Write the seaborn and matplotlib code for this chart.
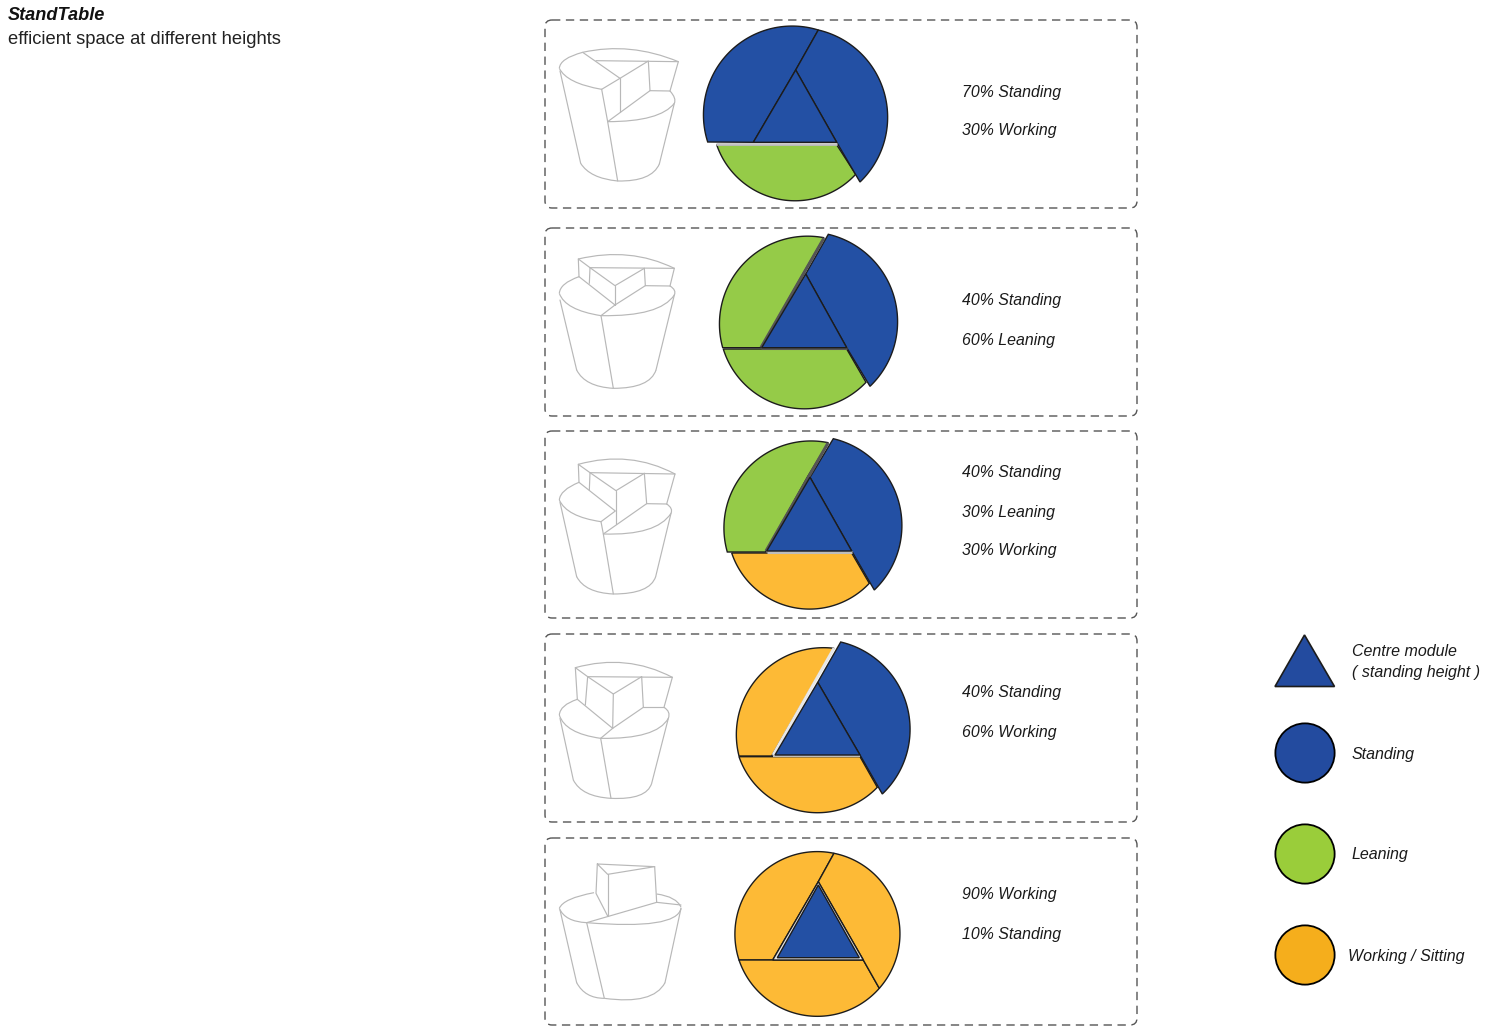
import numpy as np
import pandas as pd
import matplotlib
matplotlib.use('Agg')
import matplotlib.pyplot as plt
from matplotlib.patches import FancyBboxPatch, Polygon, PathPatch
from matplotlib.path import Path
import seaborn as sns

# --- colours ---
BLUE = '#2350A4'
GREEN = '#95CB48'
YELLOW = '#FDBA36'
EDGE = '#1c1c1c'
SKETCH = '#b8b8b8'
DASH = '#555555'

# --- texts ---
TITLE = 'StandTable'
SUBTITLE = 'efficient space at different heights'
PANEL_LABELS = [
    ['70% Standing', '30% Working'],
    ['40% Standing', '60% Leaning'],
    ['40% Standing', '30% Leaning', '30% Working'],
    ['40% Standing', '60% Working'],
    ['90% Working', '10% Standing'],
]
LABEL_Y = [[91, 130], [300, 339], [472, 511, 550], [692, 731], [894, 933]]
BOX_Y = [(20, 208), (228, 416), (431, 618), (634, 822), (838, 1025)]

# legend
LEGEND_NAMES = ['Standing', 'Leaning', 'Working / Sitting']
LEGEND_COLORS = ['#234B9F', '#9ACD3A', '#F5AE1C']
LEGEND_Y = [753, 854, 955]
LEGEND_TEXT_X = [1352, 1352, 1348]

# --- discs: each panel has three sectors (colour, centre, arc start, arc end,
# direction of the arc, inner corners), then the triangle and its stripes ---
PANEL_SECTORS = [
    [(BLUE, (792.3, 114.7), (818.3, 30), (707.7, 142), -1, [(753.3, 142.3), (795.7, 70)]),
     (GREEN, (795, 118), (716.7, 144.8), (855.7, 174.3), -1, [(836.7, 144.8), (750, 144.8)]),
     (BLUE, (798, 117), (818.3, 30), (860, 182), 1, [(836.7, 142.3), (795.7, 70)])],
    [(GREEN, (807, 324.7), (824, 237.7), (722.7, 347.7), -1, [(761, 347.7), (804, 272)]),
     (GREEN, (804.5, 324), (723.3, 349), (866, 382.3), -1, [(846.7, 349), (761.7, 349)]),
     (BLUE, (808, 322), (828.3, 234.3), (870, 386.3), 1, [(846.7, 347.7), (805.7, 274)])],
    [(GREEN, (811, 528), (828.3, 442.7), (727.3, 552), -1, [(765.5, 552), (808, 476)]),
     (YELLOW, (809.5, 527), (731.7, 553), (869.3, 583.3), -1, [(851.7, 553), (766.7, 553)]),
     (BLUE, (812.7, 525.5), (833.3, 438.7), (874.3, 590), 1, [(851.7, 551), (810, 477.3)])],
    [(YELLOW, (823, 735.3), (834, 648.3), (739, 756), -1, [(771.7, 756), (816, 679.3)]),
     (YELLOW, (817.5, 729.7), (739, 756.7), (877.3, 787.3), -1, [(860, 756.7), (771.7, 756.7)]),
     (BLUE, (820.7, 730), (840.7, 642), (882.3, 794), 1, [(860, 755), (817.7, 682.3)])],
    [(YELLOW, (817.8, 933.8), (834, 853.3), (739, 960), -1, [(772.7, 960), (818.3, 881.7)]),
     (YELLOW, (817.8, 933.8), (739, 960), (879.3, 988.3), -1, [(863.3, 960), (772.7, 960)]),
     (YELLOW, (817.8, 933.8), (834, 853.3), (879.3, 988.3), 1, [(863.3, 960), (818.3, 881.7)])],
]
PANEL_STRIPES = [
    [((716, 143.5), (836.7, 143.5), '#c4c4c4', 2.0)],
    [((824, 238), (761, 347.5), '#555555', 2.2), ((761, 348.3), (847, 348.3), '#555555', 2.2)],
    [((828, 443), (766, 551), '#555555', 2.2), ((767, 552), (852, 552), '#bdbdbd', 2.2)],
    [((834, 648), (773, 755), '#e8e8e8', 2.0), ((773, 755.8), (860, 755.8), '#bdbdbd', 1.6)],
    [],
]
PANEL_TRIANGLES = [
    [(795.7, 70), (753.3, 142.3), (836.7, 142.3)],
    [(805.7, 274), (761.7, 347.7), (846.7, 347.7)],
    [(810, 477.3), (766.7, 551), (851.7, 551)],
    [(817.7, 682.3), (775, 755), (860, 755)],
    [(818.3, 885), (777.3, 957.7), (859.3, 957.7)],
]
# white rim around the last triangle
RIM_TRIANGLE = [(818.3, 881.7), (772.7, 960), (863.3, 960)]

# --- pencil sketches, in 1/3 pixel units from the crop origin (540, top) ---
SKETCH_TOPS = [10, 225, 425, 630, 830]
SKETCH_LINES = [
    [[(60, 183), (122, 460)], [(403, 280), (358, 462)], [(185, 238), (203, 335), (233, 513)],
     [(128, 127), (240, 205), (185, 238)], [(168, 152), (415, 155)],
     [(240, 205), (325, 153), (330, 242), (390, 243)], [(240, 205), (240, 305)],
     [(203, 335), (330, 242)], [(415, 155), (390, 243)]],
    [[(60, 225), (110, 435)], [(403, 210), (348, 435)], [(183, 272), (220, 490)],
     [(115, 102), (117, 155)], [(115, 102), (150, 128), (225, 182), (313, 130)],
     [(150, 128), (403, 130)], [(150, 128), (148, 175)], [(117, 155), (225, 240)],
     [(225, 182), (225, 240)], [(313, 130), (316, 182), (390, 183)], [(403, 130), (390, 183)],
     [(183, 272), (225, 240), (316, 182)]],
    [[(60, 232), (110, 455)], [(393, 265), (347, 455)], [(183, 290), (190, 327), (220, 507)],
     [(115, 118), (117, 172)], [(115, 118), (150, 143), (228, 197), (313, 145)],
     [(150, 143), (405, 147)], [(150, 143), (148, 195)], [(117, 172), (226, 258), (183, 290)],
     [(228, 197), (228, 298)], [(190, 327), (320, 236)], [(313, 145), (320, 236), (380, 237)],
     [(405, 147), (380, 237)]],
    [[(60, 265), (100, 450)], [(385, 265), (335, 460)], [(182, 325), (213, 505)],
     [(106, 113), (112, 208)], [(106, 113), (143, 140), (220, 192), (305, 140)],
     [(143, 140), (397, 142)], [(143, 140), (136, 225)], [(112, 208), (218, 295), (182, 325)],
     [(220, 192), (218, 295)], [(218, 295), (310, 232), (305, 140)], [(310, 232), (372, 232)],
     [(397, 142), (372, 232)]],
    [[(60, 240), (110, 458)], [(423, 235), (375, 458)], [(140, 278), (193, 505)],
     [(172, 102), (203, 133), (344, 110), (172, 102)], [(203, 133), (203, 258)],
     [(172, 102), (168, 190), (203, 258)], [(344, 110), (350, 217)],
     [(140, 278), (350, 217), (423, 225)]],
]
# (start, control, end)
SKETCH_CURVES = [
    [[(128, 127), (270, 95), (415, 155)], [(128, 127), (60, 145), (58, 175)],
     [(58, 175), (80, 220), (185, 238)], [(390, 243), (410, 265), (403, 280)],
     [(403, 280), (360, 335), (203, 335)], [(122, 460), (150, 505), (233, 513)],
     [(233, 513), (335, 515), (358, 462)]],
    [[(115, 102), (270, 65), (403, 130)], [(117, 155), (60, 175), (58, 205)],
     [(58, 205), (75, 255), (183, 272)], [(390, 183), (410, 195), (403, 210)],
     [(403, 210), (360, 275), (183, 272)], [(110, 435), (135, 485), (220, 490)],
     [(220, 490), (330, 490), (348, 435)]],
    [[(115, 118), (270, 75), (405, 147)], [(117, 172), (60, 195), (58, 225)],
     [(58, 225), (80, 275), (183, 290)], [(380, 237), (400, 250), (393, 265)],
     [(393, 265), (350, 332), (190, 327)], [(110, 455), (135, 503), (220, 507)],
     [(220, 507), (330, 507), (347, 455)]],
    [[(106, 113), (260, 70), (397, 142)], [(112, 208), (60, 225), (58, 255)],
     [(58, 255), (75, 310), (182, 325)], [(372, 232), (393, 245), (385, 265)],
     [(385, 265), (350, 328), (182, 325)], [(100, 450), (125, 500), (213, 505)],
     [(213, 505), (320, 510), (335, 460)]],
    [[(162, 188), (70, 205), (58, 235)], [(58, 235), (75, 275), (140, 278)],
     [(140, 278), (410, 300), (423, 235)], [(350, 192), (410, 200), (423, 232)],
     [(110, 458), (135, 505), (193, 505)], [(193, 505), (340, 525), (375, 458)]],
]


def sector_points(center, start, end, direction, inner):
    """Arc from start to end around center, closed through the inner corners"""
    cx, cy = center
    a0 = np.arctan2(start[1] - cy, start[0] - cx)
    a1 = np.arctan2(end[1] - cy, end[0] - cx)
    if direction < 0 and a1 > a0:
        a1 -= 2 * np.pi
    if direction > 0 and a1 < a0:
        a1 += 2 * np.pi
    r0 = np.hypot(start[0] - cx, start[1] - cy)
    r1 = np.hypot(end[0] - cx, end[1] - cy)
    t = np.linspace(0, 1, 80)
    ang = a0 + (a1 - a0) * t
    rad = r0 + (r1 - r0) * t
    arc = np.column_stack([cx + rad * np.cos(ang), cy + rad * np.sin(ang)])
    return np.vstack([arc, inner])


sns.set_theme(style='white')
plt.rcParams['font.family'] = ['Liberation Sans', 'DejaVu Sans']

fig = plt.figure(figsize=(15, 10.29), dpi=100)
ax = fig.add_axes([0, 0, 1, 1])
ax.set_xlim(0, 1500)
ax.set_ylim(1029, 0)

# title
ax.text(8, 16, TITLE, fontsize=13.1, fontweight='bold', style='italic', color='#111111', va='center')
ax.text(8, 39, SUBTITLE, fontsize=13.2, color='#222222', va='center')

for i, (y0, y1) in enumerate(BOX_Y):
    ax.add_patch(FancyBboxPatch((545, y0), 592, y1 - y0, boxstyle='round,pad=0,rounding_size=7',
                                fc='none', ec=DASH, lw=1.0, ls=(0, (6, 4))))

    # pencil sketch
    top = SKETCH_TOPS[i]
    for line in SKETCH_LINES[i]:
        pts = np.array(line) / 3 + [540, top]
        ax.plot(pts[:, 0], pts[:, 1], color=SKETCH, lw=0.85, solid_joinstyle='round')
    for curve in SKETCH_CURVES[i]:
        pts = np.array(curve) / 3 + [540, top]
        ax.add_patch(PathPatch(Path(pts, [Path.MOVETO, Path.CURVE3, Path.CURVE3]),
                               fc='none', ec=SKETCH, lw=0.85))

    # disc
    for color, center, start, end, direction, inner in PANEL_SECTORS[i]:
        ax.add_patch(Polygon(sector_points(center, start, end, direction, inner),
                             closed=True, fc=color, ec=EDGE, lw=1.0, zorder=3))
    for p0, p1, color, lw in PANEL_STRIPES[i]:
        ax.plot([p0[0], p1[0]], [p0[1], p1[1]], color=color, lw=lw, zorder=4, solid_capstyle='butt')
    if i == 4:
        ax.add_patch(Polygon(RIM_TRIANGLE, closed=True, fc='#e6e6e6', ec=EDGE, lw=1.0, zorder=4))
    ax.add_patch(Polygon(PANEL_TRIANGLES[i], closed=True, fc=BLUE, ec=EDGE, lw=1.0, zorder=5))

    # labels
    for label, y in zip(PANEL_LABELS[i], LABEL_Y[i]):
        ax.text(962, y + 1, label, fontsize=11.4, style='italic', color='#1a1a1a', va='center')

# legend, drawn as its own little scatter
legend_df = pd.DataFrame({'name': LEGEND_NAMES, 'x': [1305] * 3, 'y': LEGEND_Y})
sns.scatterplot(data=legend_df, x='x', y='y', hue='name', hue_order=LEGEND_NAMES,
                palette=LEGEND_COLORS, s=1820, edgecolor='black', linewidth=1.3,
                legend=False, ax=ax, zorder=3)
ax.add_patch(Polygon([(1304.5, 635), (1275, 686.5), (1334.5, 686.5)], closed=True,
                     fc='#234B9F', ec=EDGE, lw=1.2))
ax.text(1352, 652, 'Centre module', fontsize=11.5, style='italic', color='#1a1a1a', va='center')
ax.text(1352, 673, '( standing height )', fontsize=11.5, style='italic', color='#1a1a1a', va='center')
for name, x, y in zip(LEGEND_NAMES, LEGEND_TEXT_X, LEGEND_Y):
    ax.text(x, y + 1, name, fontsize=11.5, style='italic', color='#1a1a1a', va='center')

ax.set_xlim(0, 1500)
ax.set_ylim(1029, 0)
ax.set_axis_off()
fig.savefig('out.png', dpi=100, facecolor='white')
